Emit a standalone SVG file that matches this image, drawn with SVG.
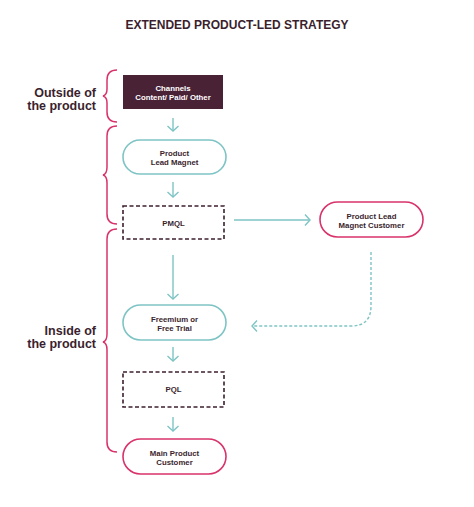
<svg xmlns="http://www.w3.org/2000/svg" width="474" height="507" viewBox="0 0 474 507">
<defs>
<style>
text{font-family:"Liberation Sans",Arial,sans-serif;font-weight:bold;fill:#3b1f2e;text-anchor:middle}
.title{font-size:12px}
.side{font-size:12.5px;text-anchor:end}
.n{font-size:7.8px}
.w{fill:#ffffff}
.teal{fill:#ffffff;stroke:#7fc4c5;stroke-width:1.6}
.pink{fill:#ffffff;stroke:#d8336a;stroke-width:1.6}
.dash{fill:#ffffff;stroke:#3b1f2e;stroke-width:1.6;stroke-dasharray:4 2.5}
.brace{fill:none;stroke:#d8336a;stroke-width:1.5}
.c{fill:none;stroke:#7fc4c5;stroke-width:1.4}
.cd{fill:none;stroke:#7fc4c5;stroke-width:1.4;stroke-dasharray:3 2}
</style>
<marker id="ah" markerUnits="userSpaceOnUse" markerWidth="12" markerHeight="12" refX="6" refY="6" orient="auto" viewBox="0 0 12 12">
<path d="M1,0.5 L6,6 L1,11.5" fill="none" stroke="#7fc4c5" stroke-width="1.4"/>
</marker>
</defs>
<rect width="474" height="507" fill="#ffffff"/>
<text class="title" x="237" y="29">EXTENDED PRODUCT-LED STRATEGY</text>

<g id="label-outside">
<text class="side" x="96" y="97">Outside of</text>
<text class="side" x="96" y="110">the product</text>
</g>
<g id="label-inside">
<text class="side" x="96" y="335">Inside of</text>
<text class="side" x="96" y="348">the product</text>
</g>
<g id="braces">
<path class="brace" d="M117 70 Q107 70 107 80 L107 89 Q107 95 103 96 Q107 97 107 103 L107 112 Q107 122 117 122"/>
<path class="brace" d="M117 126 Q107 126 107 136 L107 167 Q107 174 103 175 Q107 176 107 183 L107 214 Q107 224 117 224"/>
<path class="brace" d="M117 229 Q107 229 107 239 L107 334 Q107 341 103 342 Q107 343 107 350 L107 442 Q107 452 117 452"/>
</g>

<g id="connectors">
<line class="c" x1="173" y1="118" x2="173" y2="131" marker-end="url(#ah)"/>
<line class="c" x1="173" y1="182" x2="173" y2="197" marker-end="url(#ah)"/>
<line class="c" x1="234" y1="220" x2="310" y2="220" marker-end="url(#ah)"/>
<line class="c" x1="173" y1="255" x2="173" y2="299" marker-end="url(#ah)"/>
<path class="cd" d="M371 252 L371 306 Q371 326 351 326 L252 326" marker-end="url(#ah)"/>
<line class="c" x1="173" y1="347" x2="173" y2="361" marker-end="url(#ah)"/>
<line class="c" x1="173" y1="417" x2="173" y2="431" marker-end="url(#ah)"/>
</g>

<g id="channels">
<rect x="123" y="75" width="100" height="34" fill="#4a2236"/>
<text class="n w" x="173" y="90.5">Channels</text>
<text class="n w" x="173" y="99.5">Content/ Paid/ Other</text>
</g>
<g id="product-lead-magnet">
<rect class="teal" x="123" y="140" width="103" height="34" rx="17"/>
<text class="n" x="174.5" y="155.5">Product</text>
<text class="n" x="174.5" y="164.5">Lead Magnet</text>
</g>
<g id="pmql">
<rect class="dash" x="123" y="206" width="101" height="33"/>
<text class="n" x="173.5" y="225.5">PMQL</text>
</g>
<g id="plm-customer">
<rect class="pink" x="320" y="202" width="103" height="35" rx="17.5"/>
<text class="n" x="371.5" y="218.5">Product Lead</text>
<text class="n" x="371.5" y="227.5">Magnet Customer</text>
</g>
<g id="freemium">
<rect class="teal" x="123" y="305" width="103" height="35" rx="17.5"/>
<text class="n" x="174.5" y="322">Freemium or</text>
<text class="n" x="174.5" y="331">Free Trial</text>
</g>
<g id="pql">
<rect class="dash" x="123" y="372" width="101" height="35"/>
<text class="n" x="173.5" y="392">PQL</text>
</g>
<g id="main-customer">
<rect class="pink" x="123" y="439" width="103" height="35" rx="17.5"/>
<text class="n" x="174.5" y="456">Main Product</text>
<text class="n" x="174.5" y="465">Customer</text>
</g>
</svg>
